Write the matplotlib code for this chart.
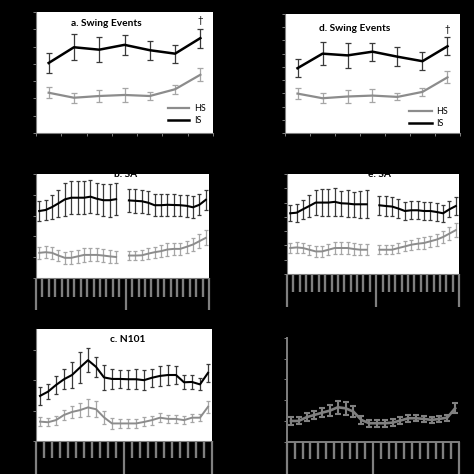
import numpy as np
import matplotlib
matplotlib.use("Agg")
import matplotlib.pyplot as plt
from matplotlib.ticker import FixedLocator

plt.rcParams['font.family'] = ['Lato', 'DejaVu Sans']

# ---- data (arbitrary units) ----
nan = np.nan

# a. Swing Events
a_is = [4.05, 4.96, 4.82, 5.10, 4.79, 4.59, 5.49]
a_is_err = [0.55, 0.76, 0.74, 0.58, 0.56, 0.52, 0.55]
a_hs = [2.33, 2.04, 2.14, 2.20, 2.14, 2.53, 3.37]
a_hs_err = [0.32, 0.30, 0.37, 0.42, 0.23, 0.25, 0.39]

# d. Swing Events
d_is = [4.90, 6.00, 5.87, 6.15, 5.77, 5.43, 6.56]
d_is_err = [0.69, 0.89, 0.94, 0.68, 0.70, 0.68, 0.68]
d_hs = [2.98, 2.63, 2.76, 2.83, 2.73, 3.11, 4.21]
d_hs_err = [0.40, 0.36, 0.46, 0.46, 0.26, 0.33, 0.46]

# b. SA  (two groups, empty slot between them)
b_is_left = [3.22, 3.27, 3.41, 3.59, 3.78, 3.86, 3.86, 3.86, 3.91, 3.81, 3.74, 3.74, 3.79]
b_is_left_err = [0.48, 0.49, 0.58, 0.65, 0.79, 0.80, 0.78, 0.80, 0.78, 0.75, 0.77, 0.79, 0.78]
b_is_right = [3.73, 3.71, 3.69, 3.62, 3.50, 3.50, 3.52, 3.51, 3.50, 3.47, 3.40, 3.52, 3.76]
b_is_right_err = [0.56, 0.57, 0.56, 0.55, 0.52, 0.53, 0.52, 0.52, 0.51, 0.52, 0.52, 0.50, 0.47]
b_hs_left = [1.21, 1.24, 1.21, 1.08, 0.97, 0.97, 1.04, 1.11, 1.11, 1.11, 1.08, 1.04, 1.01]
b_hs_left_err = [0.30, 0.29, 0.29, 0.28, 0.30, 0.31, 0.32, 0.32, 0.31, 0.31, 0.30, 0.30, 0.30]
b_hs_right = [1.08, 1.08, 1.09, 1.17, 1.24, 1.29, 1.37, 1.40, 1.40, 1.50, 1.61, 1.77, 1.93]
b_hs_right_err = [0.22, 0.22, 0.24, 0.26, 0.27, 0.28, 0.29, 0.30, 0.30, 0.30, 0.32, 0.34, 0.36]

# e. SA
e_is_left = [4.25, 4.29, 4.53, 4.76, 5.00, 5.00, 5.00, 5.05, 4.95, 4.93, 4.88, 4.88, 4.88]
e_is_left_err = [0.57, 0.62, 0.67, 0.78, 0.88, 0.92, 0.92, 0.97, 0.88, 0.92, 0.88, 0.94, 0.98]
e_is_right = [4.81, 4.76, 4.72, 4.58, 4.41, 4.46, 4.46, 4.41, 4.41, 4.34, 4.25, 4.53, 4.76]
e_is_right_err = [0.68, 0.68, 0.66, 0.64, 0.62, 0.63, 0.62, 0.62, 0.60, 0.60, 0.58, 0.55, 0.65]
e_hs_left = [1.82, 1.86, 1.82, 1.70, 1.58, 1.58, 1.70, 1.82, 1.82, 1.82, 1.75, 1.70, 1.70]
e_hs_left_err = [0.38, 0.38, 0.36, 0.36, 0.36, 0.38, 0.40, 0.42, 0.42, 0.40, 0.40, 0.40, 0.40]
e_hs_right = [1.70, 1.70, 1.70, 1.82, 1.93, 2.05, 2.12, 2.17, 2.29, 2.41, 2.59, 2.83, 3.07]
e_hs_right_err = [0.30, 0.30, 0.32, 0.33, 0.35, 0.36, 0.38, 0.40, 0.40, 0.42, 0.44, 0.45, 0.48]

# c. N101
c_is = [1.49, 1.63, 1.85, 2.04, 2.18, 2.43, 2.67, 2.45, 2.10, 2.05, 2.05,
        2.04, 2.04, 2.01, 2.09, 2.15, 2.18, 2.18, 1.94, 1.95, 1.87, 2.25]
c_is_err = [0.29, 0.25, 0.30, 0.33, 0.44, 0.52, 0.40, 0.34, 0.40, 0.33, 0.31,
            0.31, 0.33, 0.32, 0.30, 0.32, 0.33, 0.31, 0.23, 0.24, 0.20, 0.29]
c_hs = [0.64, 0.62, 0.69, 0.86, 0.96, 1.02, 1.11, 1.05, 0.78, 0.58, 0.58,
        0.58, 0.58, 0.63, 0.69, 0.77, 0.73, 0.73, 0.69, 0.77, 0.77, 1.13]
c_hs_err = [0.15, 0.14, 0.15, 0.18, 0.20, 0.22, 0.28, 0.26, 0.22, 0.17, 0.16,
            0.16, 0.16, 0.15, 0.15, 0.14, 0.13, 0.13, 0.14, 0.13, 0.12, 0.20]

# f panel (only the grey series is visible)
f_hs = [1.00, 1.00, 1.18, 1.29, 1.40, 1.50, 1.66, 1.61, 1.45, 1.05, 0.89,
        0.89, 0.89, 0.92, 1.02, 1.13, 1.13, 1.10, 1.05, 1.10, 1.16, 1.61]
f_hs_err = [0.18, 0.17, 0.18, 0.20, 0.22, 0.25, 0.32, 0.30, 0.25, 0.20, 0.18,
            0.18, 0.18, 0.17, 0.17, 0.16, 0.15, 0.15, 0.16, 0.15, 0.14, 0.25]

HS_LINE = '#8c8c8c'
HS_ERR = '#a6a6a6'
IS_LINE = '#000000'
IS_ERR = '#3a3a3a'
AX_GREY = '#7f7f7f'

W = H = 474.0


def make_axes(fig, x0, y0, x1, y1, face='white'):
    # pixel box (top-left origin) -> figure fraction
    ax = fig.add_axes([x0 / W, 1 - y1 / H, (x1 - x0) / W, (y1 - y0) / H])
    ax.set_facecolor(face)
    for s in ('top', 'right'):
        ax.spines[s].set_visible(False)
    for s in ('left', 'bottom'):
        ax.spines[s].set_color(AX_GREY)
        ax.spines[s].set_linewidth(0.8)
    return ax


def series(ax, x, y, err, line, errc, lw, cap, elw=0.9):
    cont = ax.errorbar(x, y, yerr=err, color=line, ecolor=errc, lw=lw,
                       elinewidth=elw, capsize=cap, capthick=elw, zorder=3)
    return cont[0]


def cat_axis(ax, n_slots, groups, ymax, yticks, minor_len, major_len):
    ax.set_xlim(0.5, n_slots + 0.5)
    ax.set_ylim(0, ymax)
    ax.yaxis.set_major_locator(FixedLocator(yticks))
    ax.tick_params(axis='y', direction='out', length=2.5, width=0.7,
                   color=AX_GREY, labelleft=False)
    ax.xaxis.set_major_locator(FixedLocator(groups))
    ax.xaxis.set_minor_locator(FixedLocator(np.arange(0.5, n_slots + 1, 1.0)))
    ax.tick_params(axis='x', which='major', direction='out', length=major_len,
                   width=1.6, color=AX_GREY, labelbottom=False)
    ax.tick_params(axis='x', which='minor', direction='out', length=minor_len,
                   width=1.7, color=AX_GREY, labelbottom=False)


def two_groups(left, right):
    return list(left) + [nan] + list(right)


fig = plt.figure(figsize=(4.74, 4.74), dpi=100, facecolor='black')

# ---------------- a ----------------
ax = make_axes(fig, 36, 12, 213, 133)
x7 = np.arange(1, 8)
h1 = series(ax, x7, a_hs, a_hs_err, HS_LINE, HS_ERR, 1.6, 2.2)
h2 = series(ax, x7, a_is, a_is_err, IS_LINE, IS_ERR, 1.8, 2.2)
ax.set_xlim(0.5, 7.5)
ax.set_ylim(0, 7)
ax.set_yticks(range(8))
ax.set_xticks(np.arange(0.5, 8, 1.0))
ax.tick_params(direction='out', length=2.5, width=0.7, color=AX_GREY,
               labelleft=False, labelbottom=False)
ax.text(0.395, 0.905, 'a. Swing Events', transform=ax.transAxes, ha='center',
        va='center', fontsize=7.3, fontweight='bold', color='black')
ax.text(7, 6.5, '\u2020', ha='center', va='center', fontsize=7, color='black')
ax.legend([h1, h2], ['HS', 'IS'], loc='lower left', bbox_to_anchor=(0.70, 0.0),
          frameon=False, fontsize=6.5, handlelength=2.3, labelspacing=0.35,
          handletextpad=0.6)

# ---------------- d ----------------
ax = make_axes(fig, 285, 14, 460, 133)
h1 = series(ax, x7, d_hs, d_hs_err, HS_LINE, HS_ERR, 1.6, 2.2)
h2 = series(ax, x7, d_is, d_is_err, IS_LINE, IS_ERR, 1.8, 2.2)
ax.set_xlim(0.5, 7.5)
ax.set_ylim(0, 9)
ax.set_yticks(range(10))
ax.set_xticks(np.arange(0.5, 8, 1.0))
ax.tick_params(direction='out', length=2.5, width=0.7, color=AX_GREY,
               labelleft=False, labelbottom=False)
ax.text(0.40, 0.88, 'd. Swing Events', transform=ax.transAxes, ha='center',
        va='center', fontsize=7.3, fontweight='bold', color='black')
ax.text(7, 7.85, '\u2020', ha='center', va='center', fontsize=7, color='black')
ax.legend([h1, h2], ['HS', 'IS'], loc='lower left', bbox_to_anchor=(0.66, -0.03),
          frameon=False, fontsize=6.5, handlelength=2.6, labelspacing=0.35,
          handletextpad=0.4)

# ---------------- b ----------------
ax = make_axes(fig, 36, 174, 209, 278)
x27 = np.arange(1, 28)
series(ax, x27, two_groups(b_hs_left, b_hs_right),
       two_groups(b_hs_left_err, b_hs_right_err), HS_LINE, HS_ERR, 1.4, 1.5)
series(ax, x27, two_groups(b_is_left, b_is_right),
       two_groups(b_is_left_err, b_is_right_err), IS_LINE, IS_ERR, 1.5, 1.5)
cat_axis(ax, 27, [0.5, 14.5, 27.5], 5, range(6), 13.5, 23)
ax.text(0.52, 1.0, 'b. SA', transform=ax.transAxes, ha='center', va='center',
        fontsize=7.3, fontweight='bold', color='black')

# ---------------- e ----------------
ax = make_axes(fig, 287, 174, 459, 274)
series(ax, x27, two_groups(e_hs_left, e_hs_right),
       two_groups(e_hs_left_err, e_hs_right_err), HS_LINE, HS_ERR, 1.4, 1.5)
series(ax, x27, two_groups(e_is_left, e_is_right),
       two_groups(e_is_left_err, e_is_right_err), IS_LINE, IS_ERR, 1.5, 1.5)
cat_axis(ax, 27, [0.5, 14.5, 27.5], 7, range(8), 13, 24)
ax.text(0.535, 1.0, 'e. SA', transform=ax.transAxes, ha='center', va='center',
        fontsize=7.3, fontweight='bold', color='black')

# ---------------- c ----------------
ax = make_axes(fig, 36, 329, 212, 441)
x22 = np.arange(1, 23)
series(ax, x22, c_hs, c_hs_err, HS_LINE, HS_ERR, 1.4, 1.6)
series(ax, x22, c_is, c_is_err, IS_LINE, IS_ERR, 1.5, 1.6)
cat_axis(ax, 22, [0.5, 11.5, 22.5], 3.7, range(4), 12.5, 24)
ax.text(0.52, 0.91, 'c. N101', transform=ax.transAxes, ha='center',
        va='center', fontsize=7.3, fontweight='bold', color='black')

# ---------------- f (transparent plot area) ----------------
ax = make_axes(fig, 287, 338, 459, 441.7, face='none')
for s in ('left', 'bottom'):
    ax.spines[s].set_linewidth(1.4)
series(ax, x22, f_hs, f_hs_err, '#808080', '#808080', 1.9, 2.0, elw=1.5)
cat_axis(ax, 22, [0.5, 11.5, 22.5], 5, range(6), 12.5, 24)

fig.savefig('out.png', dpi=100, facecolor='black')
